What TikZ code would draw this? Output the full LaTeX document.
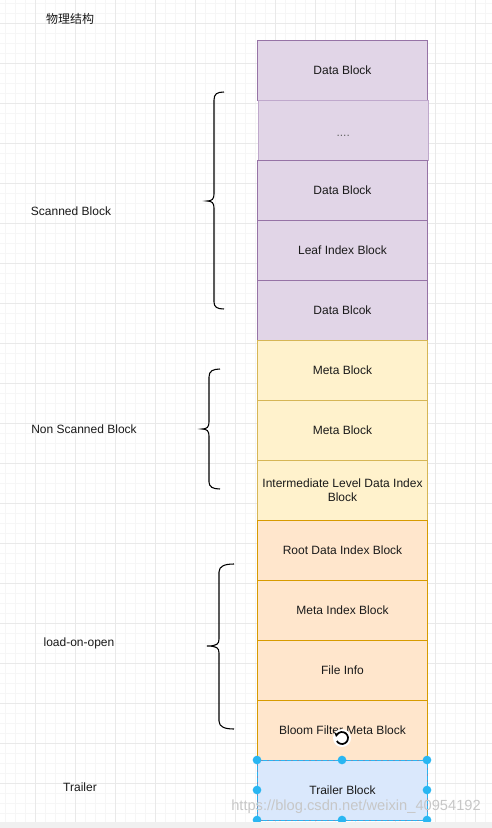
\documentclass[tikz,border=0pt]{standalone}
\usepackage{fontspec}
\setmainfont{Liberation Sans}
\newfontfamily\cjk{Noto Sans CJK SC}
\usetikzlibrary{arrows.meta}
\definecolor{purpF}{HTML}{E1D5E7}
\definecolor{purpD}{HTML}{9673A6}
\definecolor{purpL}{HTML}{BFA8CC}
\definecolor{yelF}{HTML}{FFF2CC}
\definecolor{yelD}{HTML}{D6B656}
\definecolor{orF}{HTML}{FFE6CC}
\definecolor{orD}{HTML}{D79B00}
\definecolor{blF}{HTML}{DAE8FC}
\definecolor{blD}{HTML}{6C8EBF}
\definecolor{selc}{HTML}{29B6F2}
\definecolor{gridminor}{HTML}{F6F6F6}
\definecolor{gridmajor}{HTML}{E9E9E9}
\definecolor{txt}{HTML}{1A1A1A}
\begin{document}
\begin{tikzpicture}[x=0.75pt,y=-0.75pt,
  font=\fontsize{9pt}{10.5pt}\selectfont,
  blk/.style={draw, line width=0.75pt, minimum width=127.5pt, minimum height=45pt,
    inner sep=0pt, align=center, text=txt, anchor=north west},
  purp/.style={blk, fill=purpF, draw=purpD},
  yel/.style={blk, fill=yelF, draw=yelD},
  ora/.style={blk, fill=orF, draw=orD},
  blu/.style={blk, fill=blF, draw=blD},
  lbl/.style={text=txt, inner sep=0pt},
  brace/.style={draw=black, line width=0.8pt},
  handle/.style={circle, fill=selc, inner sep=0pt, minimum size=6.5pt}]
\useasboundingbox (0,0) rectangle (492,828);
\fill[white] (0,0) rectangle (492,828);
% grid
\foreach \x in {5,15,...,485} \draw[gridminor, line width=0.75pt] (\x,0) -- (\x,828);
\foreach \y in {3,13,...,823} \draw[gridminor, line width=0.75pt] (0,\y) -- (492,\y);
\foreach \x in {35,75,...,475} \draw[gridmajor, line width=0.75pt] (\x,0) -- (\x,828);
\foreach \y in {23,63,...,823} \draw[gridmajor, line width=0.75pt] (0,\y) -- (492,\y);

% title
\node[lbl, font=\cjk\fontsize{9pt}{10.5pt}\selectfont] (title) at (70,19) {物理结构};

% blocks
\node[purp] (b1) at (257,40) {Data Block};
\node[blk, fill=purpF, draw=purpL, minimum width=127.8pt, text=black!60] (b2) at (257.5,100) {\\[-2pt]....};
\node[purp] (b3) at (257,160) {Data Block};
\node[purp] (b4) at (257,220) {Leaf Index Block};
\node[purp] (b5) at (257,280) {Data Blcok};
\node[yel] (b6) at (257,340) {Meta Block};
\node[yel] (b7) at (257,400) {Meta Block};
\node[yel] (b8) at (257,460) {Intermediate Level Data Index\\Block};
\node[ora] (b9) at (257,520) {Root Data Index Block};
\node[ora] (b10) at (257,580) {Meta Index Block};
\node[ora] (b11) at (257,640) {File Info};
\node[ora] (b12) at (257,700) {Bloom Filter Meta Block};
\node[blu] (b13) at (257,760) {Trailer Block};

% labels
\node[lbl] (l1) at (71,211) {Scanned Block};
\node[lbl] (l2) at (84,429) {Non Scanned Block};
\node[lbl] (l3) at (79,643) {load-on-open};
\node[lbl] (l4) at (80,787) {Trailer};

% braces
\draw[brace] (224,92) .. controls (217,92) and (214,94) .. (214,100) -- (214,194)
  .. controls (214,199) and (212,201) .. (207,201)
  .. controls (212,201) and (214,203) .. (214,208) -- (214,302)
  .. controls (214,307) and (217,309) .. (224,309);
\draw[brace] (220,369) .. controls (213,369) and (209,371) .. (209,377) -- (209,422)
  .. controls (209,427) and (207,429) .. (202,429)
  .. controls (207,429) and (209,431) .. (209,436) -- (209,482)
  .. controls (209,487) and (213,489) .. (220,489);
\draw[brace] (234,564) .. controls (225,564) and (219,566) .. (219,572) -- (219,639)
  .. controls (219,644) and (217,646) .. (207,646)
  .. controls (217,646) and (219,648) .. (219,653) -- (219,721)
  .. controls (219,727) and (225,729) .. (234,729);

% selection
\draw[selc, line width=0.75pt, dash pattern=on 3pt off 1.5pt] (257,760) rectangle (427,820);
\foreach \hx/\hy/\hn in {257/760/h1,342/760/h2,427/760/h3,257/790/h4,427/790/h5,257/820/h6,342/820/h7,427/820/h8}
  \node[handle] (\hn) at (\hx,\hy) {};

% rotation icon
\fill[white] (342,738) circle[radius=9];
\draw[black, line width=1.3pt, -{Stealth[length=3.6pt,width=4.2pt]}] (342,738) ++(150:6) arc[start angle=150, end angle=-170, radius=6];

% watermark
\node[anchor=west, inner sep=0pt, font=\fontsize{11pt}{12pt}\selectfont, text=black!22] (wm) at (231,807) {https://blog.csdn.net/weixin\_40954192};

% bottom band
\fill[black!6] (0,822) rectangle (492,828);
\end{tikzpicture}
\end{document}
